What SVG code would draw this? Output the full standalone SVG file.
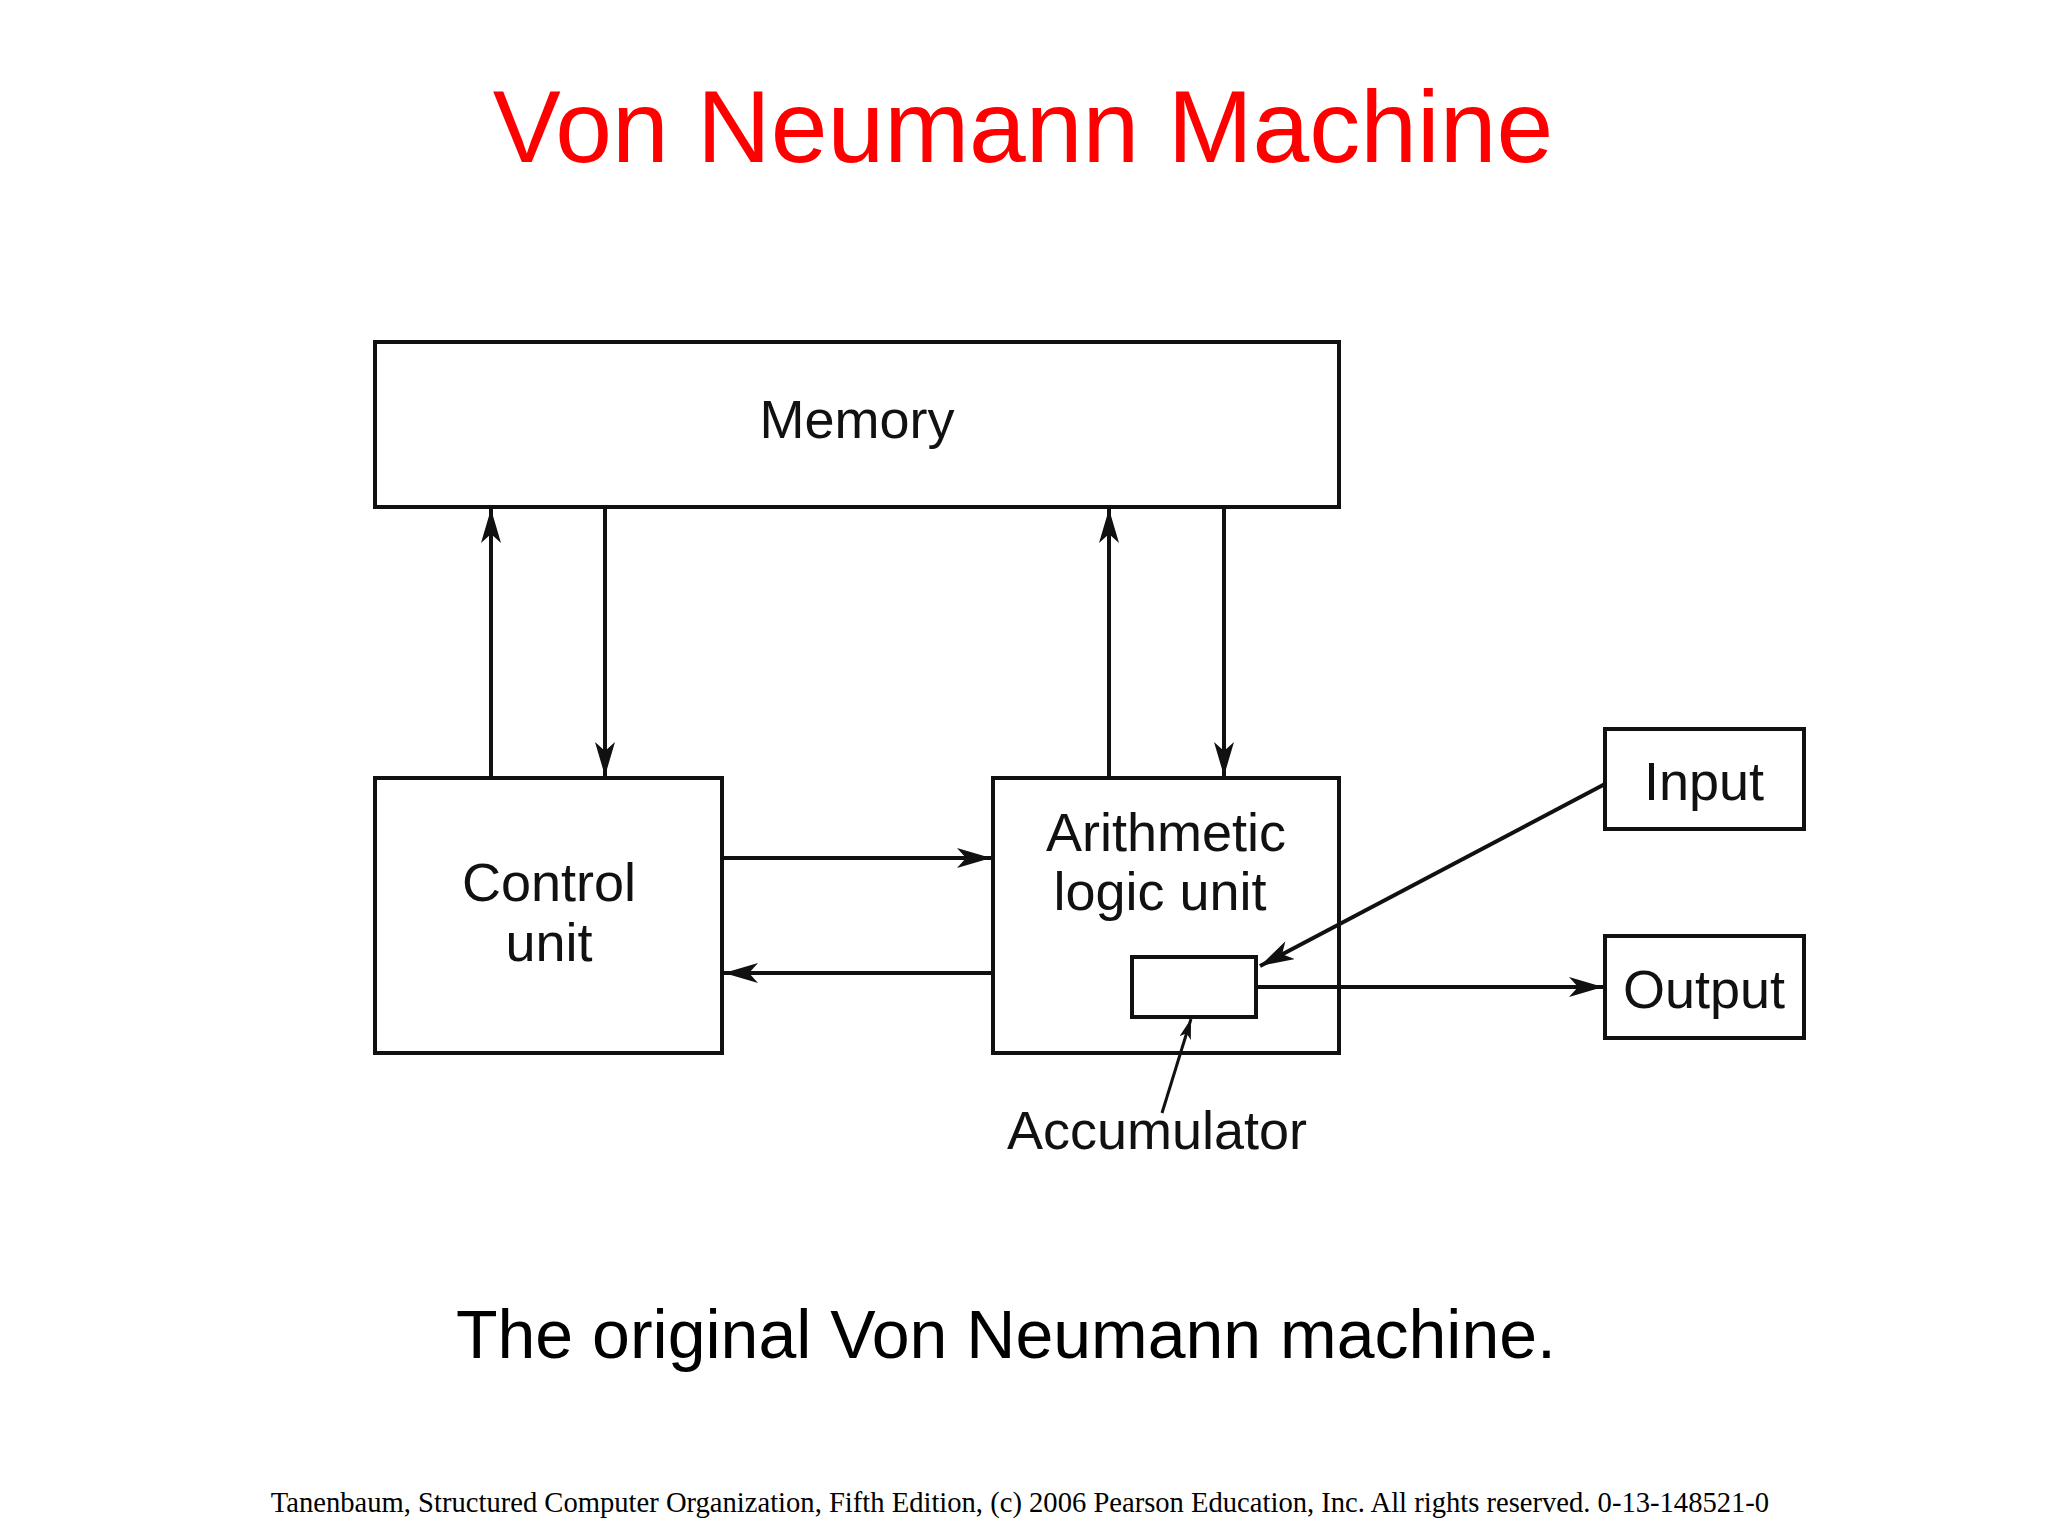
<svg xmlns="http://www.w3.org/2000/svg" width="2048" height="1536" viewBox="0 0 2048 1536">
<defs>
<marker id="ah" viewBox="0 0 20 12" refX="20" refY="6" markerWidth="20" markerHeight="12" markerUnits="userSpaceOnUse" orient="auto">
<path d="M0,0 L20,6 L0,12 L5,6 Z" fill="#111"/>
</marker>
<marker id="ahb" viewBox="0 0 34 20" refX="34" refY="10" markerWidth="34" markerHeight="20" markerUnits="userSpaceOnUse" orient="auto">
<path d="M0,0 L34,10 L0,20 L9,10 Z" fill="#111"/>
</marker>
<style>
.box{fill:#fff;stroke:#111;stroke-width:4}
.lbl{font-family:"Liberation Sans",Arial,sans-serif;font-size:54px;fill:#111;text-anchor:middle}
.ln{stroke:#111;stroke-width:4;fill:none;marker-end:url(#ahb)}
</style>
</defs>
<rect width="2048" height="1536" fill="#fff"/>
<text x="1023" y="162" font-family="Liberation Sans,Arial,sans-serif" font-size="102" fill="#f00" text-anchor="middle">Von Neumann Machine</text>
<g id="memory"><rect class="box" x="375" y="342" width="964" height="165"/><text class="lbl" x="857" y="438">Memory</text></g>
<g id="control"><rect class="box" x="375" y="778" width="347" height="275"/><text class="lbl" x="549" y="901">Control</text><text class="lbl" x="549" y="961">unit</text></g>
<g id="alu"><rect class="box" x="993" y="778" width="346" height="275"/><text class="lbl" x="1166" y="851">Arithmetic</text><text class="lbl" x="1160" y="910">logic unit</text></g>
<g id="accumulator"><rect class="box" x="1132" y="957" width="124" height="60"/><text class="lbl" x="1157" y="1149">Accumulator</text></g>
<g id="input"><rect class="box" x="1605" y="729" width="199" height="100"/><text class="lbl" x="1704" y="800">Input</text></g>
<g id="output"><rect class="box" x="1605" y="936" width="199" height="102"/><text class="lbl" x="1704" y="1008">Output</text></g>
<g id="connectors">
<line class="ln" x1="491" y1="778" x2="491" y2="509"/>
<line class="ln" x1="605" y1="507" x2="605" y2="776"/>
<line class="ln" x1="1109" y1="778" x2="1109" y2="509"/>
<line class="ln" x1="1224" y1="507" x2="1224" y2="776"/>
<line class="ln" x1="722" y1="858" x2="991" y2="858"/>
<line class="ln" x1="993" y1="973" x2="724" y2="973"/>
<line class="ln" x1="1605" y1="784" x2="1260" y2="966"/>
<line class="ln" x1="1256" y1="987" x2="1603" y2="987"/>
<line stroke="#111" stroke-width="3" fill="none" marker-end="url(#ah)" x1="1162" y1="1113" x2="1191" y2="1019"/>
</g>
<text x="1006" y="1358" font-family="Liberation Sans,Arial,sans-serif" font-size="68" fill="#000" text-anchor="middle">The original Von Neumann machine.</text>
<text x="1020" y="1512" font-family="Liberation Serif,Times New Roman,serif" font-size="28.6" fill="#000" text-anchor="middle">Tanenbaum, Structured Computer Organization, Fifth Edition, (c) 2006 Pearson Education, Inc. All rights reserved. 0-13-148521-0</text>
</svg>
